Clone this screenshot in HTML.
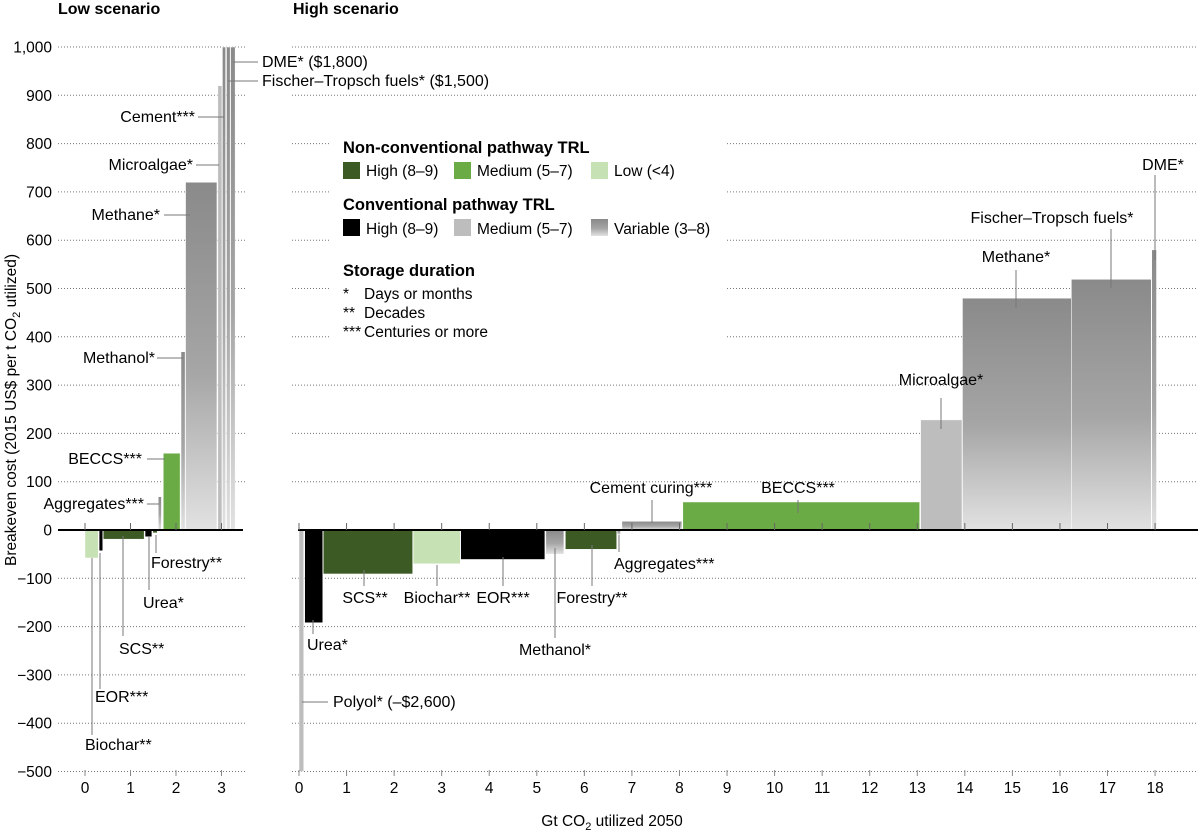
<!DOCTYPE html>
<html><head><meta charset="utf-8"><style>
body{margin:0;background:#fff;}
svg{display:block;font-family:"Liberation Sans",Arial,sans-serif;}
</style></head><body>
<svg id="chart" width="1200" height="832" viewBox="0 0 1200 832">
<defs>
<linearGradient id="varGrad" x1="0" y1="0" x2="0" y2="1">
<stop offset="0" stop-color="#8a8a8a"/><stop offset="0.55" stop-color="#a6a6a6"/><stop offset="1" stop-color="#e2e2e2"/>
</linearGradient>
</defs>
<g id="grid"></g>
<rect x="330" y="132" width="396" height="216" fill="#fff"/>
<g id="bars"></g>
<g id="axes"></g>
<g id="labels"></g>
<text x="58" y="14" font-size="16" font-weight="bold">Low scenario</text>
<text x="293" y="14" font-size="16" font-weight="bold">High scenario</text>
<text transform="translate(16,410) rotate(-90)" text-anchor="middle" font-size="15.5">Breakeven cost (2015 US$ per t CO<tspan font-size="11" dy="4">2</tspan><tspan dy="-4"> utilized)</tspan></text>
<text x="612" y="826" text-anchor="middle" font-size="15.5">Gt CO<tspan font-size="11" dy="4">2</tspan><tspan dy="-4"> utilized 2050</tspan></text>
<g font-size="15.5">
<text x="343" y="153" font-weight="bold" font-size="16.5">Non-conventional pathway TRL</text>
<rect x="343" y="162" width="17" height="17" fill="#3c5a24"/><text x="366" y="176">High (8–9)</text>
<rect x="454" y="162" width="17" height="17" fill="#6aab45"/><text x="477" y="176">Medium (5–7)</text>
<rect x="591" y="162" width="17" height="17" fill="#c6e1b3"/><text x="614" y="176">Low (&lt;4)</text>
<text x="343" y="210" font-weight="bold" font-size="16.5">Conventional pathway TRL</text>
<rect x="343" y="219" width="17" height="17" fill="#000"/><text x="366" y="234">High (8–9)</text>
<rect x="454" y="219" width="17" height="17" fill="#bdbdbd"/><text x="477" y="234">Medium (5–7)</text>
<rect x="591" y="219" width="17" height="17" fill="url(#varGrad)"/><text x="614" y="234">Variable (3–8)</text>
<text x="343" y="276" font-weight="bold" font-size="16.5">Storage duration</text>
<text x="343" y="299">*</text><text x="364" y="299">Days or months</text>
<text x="343" y="318">**</text><text x="364" y="318">Decades</text>
<text x="343" y="337">***</text><text x="364" y="337">Centuries or more</text>
</g>
</svg>
<script>
const NS="http://www.w3.org/2000/svg";
const yTicks=[1000,900,800,700,600,500,400,300,200,100,0,-100,-200,-300,-400,-500];
const lowTicks=[0,1,2,3];
const highTicks=[0,1,2,3,4,5,6,7,8,9,10,11,12,13,14,15,16,17,18];
const lowNames=["Biochar","EOR","SCS","Urea","Forestry","Aggregates","BECCS","Methanol","Methane","Microalgae","Cement","Fischer-Tropsch","DME"];
const lowStart=[0,0.31,0.40,1.32,1.49,1.61,1.72,2.11,2.21,2.92,3.02,3.11,3.20];
const lowEnd=[0.29,0.39,1.30,1.47,1.59,1.68,2.09,2.20,2.90,3.01,3.09,3.19,3.30];
const lowValues=[-58,-43,-19,-14,-6,69,159,369,720,920,1000,1000,1000];
const lowColors=["low","chigh","high","chigh","high","var","med","var","var","cmed","var","var","var"];
const highNames=["Polyol","Urea","SCS","Biochar","EOR","Methanol","Forestry","Aggregates","Cement curing","BECCS","Microalgae","Methane","Fischer-Tropsch","DME"];
const highStart=[0,0.12,0.51,2.40,3.40,5.19,5.60,6.69,6.79,8.07,13.07,13.95,16.24,17.93];
const highEnd=[0.10,0.50,2.39,3.39,5.17,5.57,6.68,6.76,8.05,13.05,13.94,16.24,17.92,18.03];
const highValues=[-500,-192,-91,-70,-61,-50,-40,-10,18,58,228,480,519,580];
const highColors=["cmed","chigh","high","low","chigh","var","high","var","var","med","cmed","var","var","var"];

const Y0=530, PX100=48.3;
function yS(v){return Y0-v*PX100/100;}
function xLow(v){return 85+v*45.5;}
function xHigh(v){return 299+v*47.56;}
const fills={low:"#c6e1b3",med:"#6aab45",high:"#3c5a24",chigh:"#000",cmed:"#bdbdbd",var:"url(#varGrad)"};
function mk(tag,attrs,parent){const e=document.createElementNS(NS,tag);for(const k in attrs)e.setAttribute(k,attrs[k]);parent.appendChild(e);return e;}
const grid=document.getElementById('grid'),bars=document.getElementById('bars'),axes=document.getElementById('axes'),labels=document.getElementById('labels');
yTicks.forEach(t=>{
  const y=yS(t);
  if(t!==0){
    const g1=mk('line',{x1:58,x2:245,y1:y,y2:y,stroke:"#777","stroke-width":1,"stroke-dasharray":"1 2"},grid);
    
    
    const g2=mk('line',{x1:292,x2:1197,y1:y,y2:y,stroke:"#777","stroke-width":1,"stroke-dasharray":"1 2"},grid);
    
    
  }
  const tx=mk('text',{x:52,y:y+5.5,"text-anchor":"end","font-size":15.5},axes);
  tx.textContent=t.toLocaleString('en-US').replace('-','−');
  
  
});
function drawBars(starts,ends,vals,cols,names,xf){
  for(let i=0;i<vals.length;i++){
    const x1=xf(starts[i]),x2=xf(ends[i]);
    const y=yS(Math.max(vals[i],0)),h=Math.abs(yS(vals[i])-Y0);
    const r=mk('rect',{x:x1,y:y,width:Math.max(x2-x1,1),height:Math.max(h,1),fill:fills[cols[i]],stroke:"#fff","stroke-width":0.5},bars);
    
    
  }
}
drawBars(lowStart,lowEnd,lowValues,lowColors,lowNames,xLow);
drawBars(highStart,highEnd,highValues,highColors,highNames,xHigh);
let a=mk('line',{x1:58,x2:243,y1:Y0,y2:Y0,stroke:"#000","stroke-width":2},axes);


a=mk('line',{x1:298,x2:1198,y1:Y0,y2:Y0,stroke:"#000","stroke-width":2},axes);


function xTicks(ticks,xf){
  ticks.forEach(t=>{
    const x=xf(t);
    mk('line',{x1:x,x2:x,y1:Y0-7,y2:Y0,stroke:"#666","stroke-width":1},axes);
    mk('line',{x1:x,x2:x,y1:770,y2:776,stroke:"#888","stroke-width":1},axes);
    const tx=mk('text',{x:x,y:793,"text-anchor":"middle","font-size":15.5},axes);
    tx.textContent=t;
    
    
  });
}
xTicks(lowTicks,xLow);xTicks(highTicks,xHigh);
const L=[
["DME* ($1,800)",262,67,"start",233,62,258,62],
["Fischer–Tropsch fuels* ($1,500)",262,86,"start",228,81,258,81],
["Cement***",195,122,"end",198,117,224,117],
["Microalgae*",193,170,"end",196,165,219,165],
["Methane*",160,220,"end",164,215,190,215],
["Methanol*",155,363,"end",157,358,183,358],
["BECCS***",142,464,"end",147,459,165,459],
["Aggregates***",144,509,"end",147,504,159,504],
["Forestry**",151,568,"start",156,535,156,553],
["Urea*",143,608,"start",149,536,149,590],
["SCS**",119,654,"start",123,536,123,636],
["EOR***",95,702,"start",100,553,100,689],
["Biochar**",85,750,"start",92,558,92,735],
["Polyol* (–$2,600)",333,707,"start",302,702,328,702],
["Urea*",307,650,"start",313,620,313,634],
["SCS**",365,603,"middle",364,570,364,586],
["Biochar**",437,603,"middle",437,565,437,586],
["EOR***",503,603,"middle",503,557,503,586],
["Methanol*",555,655,"middle",555,548,555,638],
["Forestry**",592,603,"middle",592,545,592,586],
["Aggregates***",614,569,"start",619,535,619,552],
["Cement curing***",651,493,"middle",652,500,652,523],
["BECCS***",798,493,"middle",798,500,798,513],
["Microalgae*",941,385,"middle",941,398,941,429],
["Methane*",1016,262,"middle",1016,270,1016,308],
["Fischer–Tropsch fuels*",1052,223,"middle",1111,229,1111,288],
["DME*",1163,170,"middle",1155,175,1155,260]];
L.forEach(l=>{
  mk('line',{x1:l[4],y1:l[5],x2:l[6],y2:l[7],stroke:"#777","stroke-width":1},labels);
  const t=mk('text',{x:l[1],y:l[2],"text-anchor":l[3],"font-size":16},labels);
  t.textContent=l[0];
  
  
});
</script>
</body></html>
